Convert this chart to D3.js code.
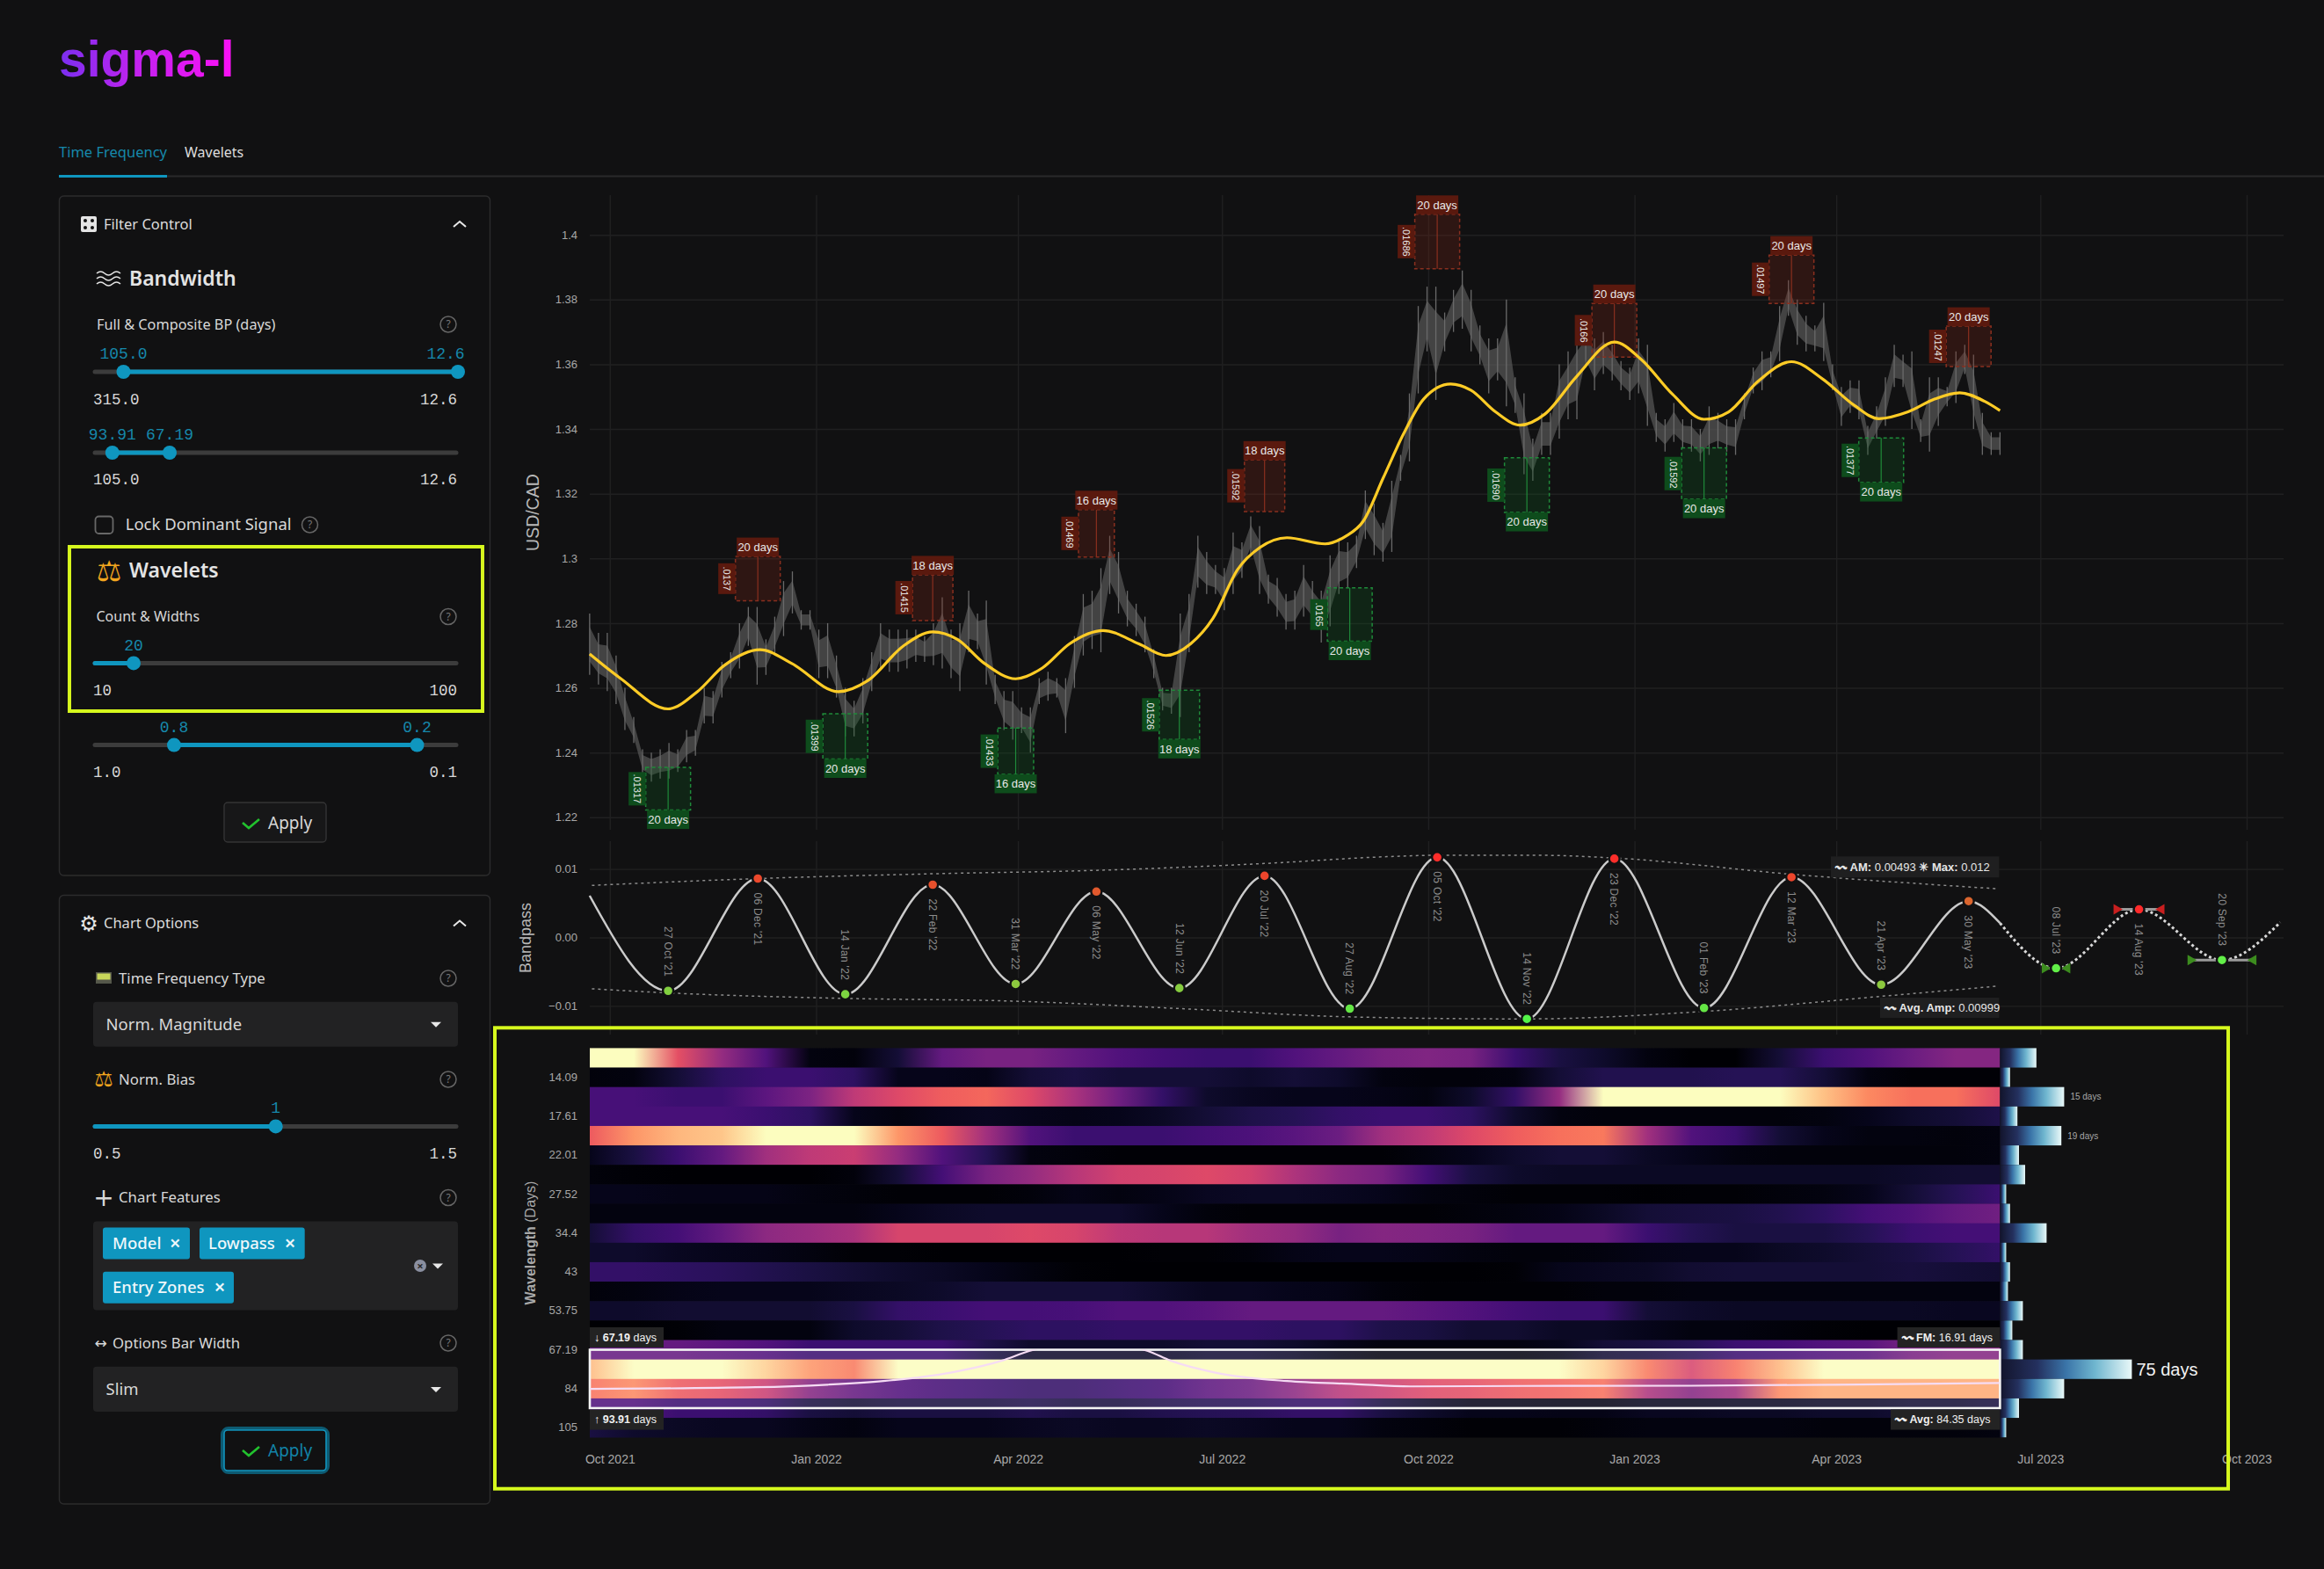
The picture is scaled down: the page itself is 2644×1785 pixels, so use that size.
<!DOCTYPE html>
<html><head><meta charset="utf-8">
<script src="https://cdn.jsdelivr.net/npm/d3@7"></script>
<style>html,body{margin:0;padding:0;background:#111112;overflow:hidden}svg{display:block}</style>
</head><body><svg id="c" width="2644" height="1785"></svg>
<script>
// ---------- chart values ----------
const priceHigh=[1.283,1.277,1.277,1.270,1.260,1.251,1.241,1.240,1.241,1.243,1.241,1.247,1.247,1.260,1.259,1.268,1.271,1.280,1.285,1.285,1.275,1.282,1.293,1.296,1.284,1.284,1.278,1.280,1.270,1.260,1.256,1.263,1.271,1.280,1.278,1.278,1.278,1.278,1.276,1.280,1.288,1.278,1.280,1.290,1.283,1.287,1.264,1.259,1.259,1.254,1.254,1.263,1.265,1.263,1.263,1.276,1.289,1.290,1.297,1.307,1.302,1.290,1.286,1.282,1.272,1.260,1.260,1.283,1.289,1.307,1.302,1.298,
1.297,1.308,1.305,1.313,1.310,1.295,1.294,1.289,1.290,1.298,1.293,1.290,1.301,1.306,1.305,1.307,1.321,1.317,1.311,1.324,1.332,1.351,1.378,1.384,1.384,1.376,1.383,1.389,1.383,1.372,1.368,1.368,1.380,1.356,1.351,1.337,1.345,1.345,1.360,1.364,1.370,1.370,1.368,1.370,1.366,1.361,1.359,1.368,1.366,1.345,1.343,1.348,1.343,1.343,1.340,1.347,1.345,1.343,1.343,1.351,1.359,1.364,1.364,1.378,1.386,1.380,1.375,1.372,1.379,1.360,1.353,1.355,1.355,1.341,1.347,1.356,1.366,1.363,1.364,1.343,1.356,1.356,1.353,1.364,1.366,1.363,1.345,1.339,1.339];
const priceLow=[1.264,1.261,1.259,1.255,1.247,1.243,1.233,1.231,1.232,1.232,1.234,1.237,1.239,1.249,1.249,1.257,1.263,1.266,1.273,1.261,1.264,1.270,1.276,1.283,1.278,1.278,1.263,1.263,1.257,1.245,1.245,1.249,1.259,1.266,1.265,1.265,1.266,1.268,1.268,1.267,1.266,1.263,1.259,1.271,1.272,1.261,1.255,1.247,1.244,1.246,1.240,1.255,1.256,1.257,1.246,1.260,1.270,1.272,1.271,1.289,1.283,1.279,1.276,1.271,1.263,1.253,1.252,1.251,1.271,1.291,1.289,1.289,
1.284,1.289,1.294,1.301,1.289,1.286,1.282,1.278,1.278,1.282,1.279,1.274,1.279,1.289,1.291,1.297,1.306,1.301,1.299,1.302,1.324,1.330,1.351,1.364,1.349,1.364,1.370,1.371,1.364,1.360,1.351,1.355,1.347,1.345,1.326,1.324,1.332,1.332,1.337,1.343,1.343,1.359,1.352,1.357,1.355,1.352,1.349,1.351,1.341,1.336,1.333,1.336,1.334,1.333,1.330,1.332,1.334,1.333,1.332,1.343,1.351,1.352,1.356,1.361,1.375,1.366,1.364,1.364,1.361,1.352,1.341,1.345,1.343,1.332,1.337,1.341,1.353,1.353,1.340,1.336,1.333,1.341,1.347,1.348,1.357,1.340,1.332,1.332,1.332];
const priceFirstDate='2021-09-22', priceLastDate='2023-06-13';
const lowpassDay=[-9,5,26,39,51,67,81,102,115,131,144,155,167,181,193,205,220,236,248,259,269,280,290,302,319,328,336,345,354,363,375,384,395,406,417,431,448,460,474,488,499,512,527,541,555,566,579,591,602,613,620];
const lowpassValue=[1.2705,1.2628,1.2535,1.2588,1.2669,1.2718,1.2676,1.2588,1.2622,1.273,1.2773,1.275,1.2676,1.2628,1.2662,1.2736,1.2777,1.2736,1.27,1.2736,1.2815,1.2966,1.3034,1.3064,1.3045,1.3068,1.3115,1.325,1.3385,1.3493,1.3539,1.352,1.3453,1.3412,1.3446,1.3561,1.3669,1.3615,1.3507,1.343,1.3453,1.3547,1.3608,1.3554,1.3473,1.3432,1.3453,1.3493,1.3512,1.3486,1.3457];
const priceTicks=[1.22,1.24,1.26,1.28,1.30,1.32,1.34,1.36,1.38,1.40];
const bandpassTicks=[-0.01,0,0.01];
// entry zones
const lowZoneDates=['2021-10-27','2022-01-14','2022-03-31','2022-06-12','2022-08-27','2022-11-14','2023-02-01','2023-04-21'];
const lowZoneTop=[1.2354,1.252,1.2476,1.2593,1.2909,1.3311,1.3342,1.3372];
const lowZoneDays=[20,20,16,18,20,20,20,20];
const lowZoneTags=['.01317','.01399','.01433','.01526','.0165','.01690','.01592','.01377'];
const highZoneDates=['2021-12-06','2022-02-22','2022-05-06','2022-07-20','2022-10-05','2022-12-23','2023-03-12','2023-05-30'];
const highZoneBottom=[1.2869,1.2808,1.3004,1.3145,1.3895,1.3622,1.3788,1.3593];
const highZoneDays=[20,18,16,18,20,20,20,20];
const highZoneTags=['.0137','.01415','.01469','.01592','.01686','.0166','.01497','.01247'];
// bandpass
const bandDates=['2021-09-22','2021-10-27','2021-12-06','2022-01-14','2022-02-22','2022-03-31','2022-05-06','2022-06-12','2022-07-20','2022-08-27','2022-10-05','2022-11-14','2022-12-23','2023-02-01','2023-03-12','2023-04-21','2023-05-30','2023-06-13'];
const bandValues=[0.0061,-0.0078,0.0086,-0.0083,0.0077,-0.0068,0.0067,-0.0074,0.009,-0.0104,0.0117,-0.0119,0.0115,-0.0103,0.0088,-0.0069,0.0053,0.0021];
const forecastDates=['2023-06-13','2023-07-08','2023-08-14','2023-09-20','2023-10-16'];
const forecastValues=[0.0021,-0.0045,0.0041,-0.0033,0.0022];
const forecastSpreadDays=[0,5,10,14,0];
const upperEnvDay=[-8,66,144,217,292,347,369,414,448,528,619];
const upperEnvValue=[0.0076,0.0086,0.0093,0.0098,0.0108,0.0118,0.012,0.012,0.0116,0.0092,0.0071];
const lowerEnvDay=[-8,26,105,180,255,330,408,488,567,619];
const lowerEnvValue=[-0.0075,-0.0081,-0.0089,-0.0093,-0.0104,-0.0116,-0.0119,-0.0108,-0.0086,-0.0071];
// time-frequency rows, sampled evenly through the series
const wavelengths=[12.6,14.09,15.75,17.61,19.69,22.01,24.61,27.52,30.77,34.4,38.46,43,48.08,53.75,60.1,67.19,75.13,84,93.91,105];
const row01=[1.1,1,.62,.42,.25,.03,.02,.1,.3,.35,.35,.3,.25,.22,.2,.2,.25,.3,.35,.37,.35,.2,.12,.08,.03,0,0,.1,.2,.25,.32,.38,.38];
const row02=[.02,.03,.1,.17,.2,.2,.17,.05,.05,.04,.1,.12,.1,.1,.1,.08,.1,.08,.03,.02,.02,.03,.1,.14,.14,.14,.15,.15,.1,.03,.01,.01,.01];
const row03=[.23,.23,.2,.2,.28,.36,.52,.6,.66,.68,.6,.47,.33,.18,.08,.06,.05,.05,.04,.03,.08,.18,.42,1,1,1,1,1,.87,.75,.7,.7,.6];
const row04=[.23,.23,.23,.23,.2,.17,.05,.03,.05,.06,.05,.04,.05,.07,.1,.13,.15,.18,.2,.2,.17,.08,.03,.02,.02,.02,.02,.02,.03,.05,.08,.1,.13];
const row05=[.65,.78,.85,.88,1,1,1,.78,.65,.45,.25,.2,.2,.2,.22,.24,.27,.32,.45,.52,.6,.66,.7,.72,.45,.25,.2,.1,.05,.03,.03,.02,.03];
const row06=[.05,.12,.2,.3,.45,.52,.55,.42,.25,.15,.03,.02,.01,.01,.01,.01,.01,.01,.01,.03,.05,.08,.1,.1,.07,.05,.03,.02,.02,.02,.02,.02,.03];
const row07=[.02,.01,0,0,0,0,.02,.1,.22,.35,.42,.5,.57,.58,.6,.57,.48,.4,.35,.22,.12,.08,.07,.07,.07,.07,.07,.07,.07,.07,.08,.09,.09];
const row08=[.05,.05,.04,.04,.04,.03,.02,.01,.01,.01,.02,.04,.03,.04,.06,.07,.07,.06,.05,.03,.02,.01,.01,.01,0,.01,.01,.02,.03,.05,.1,.15,.2];
const row09=[.03,.03,.03,.03,.03,.03,.03,.05,.07,.08,.08,.08,.08,.05,.02,.01,.01,.01,.01,.01,.02,.03,.04,.07,.1,.11,.12,.14,.17,.22,.25,.3,.33];
const row10=[.1,.18,.22,.3,.4,.43,.47,.58,.58,.58,.6,.58,.52,.5,.5,.45,.42,.35,.38,.37,.35,.3,.3,.3,.2,.15,.12,.12,.12,.15,.2,.22,.22];
const row11=[.08,.08,.06,.05,.04,.03,.01,.01,0,0,0,0,0,.01,.01,.02,.04,.05,.05,.04,.03,.02,.02,.03,.04,.05,.05,.07,.08,.1,.12,.15,.18];
const row12=[.18,.18,.17,.16,.14,.12,.1,.08,.07,.05,.03,.01,0,0,0,0,0,0,0,0,0,.01,.05,.06,.07,.09,.1,.1,.1,.1,.11,.1,.09];
const row13=[.02,.03,.04,.05,.05,.05,.06,.07,.08,.1,.1,.1,.1,.08,.06,.06,.05,.04,.02,.01,.01,.01,.01,.02,.02,.03,.03,.03,.03,.03,.03,.03,.03];
const row14=[.08,.08,.09,.09,.09,.09,.12,.18,.2,.22,.22,.23,.25,.25,.27,.3,.3,.3,.3,.28,.25,.22,.2,.2,.1,.08,.07,.07,.07,.07,.07,.06,.06];
const row15=[0,0,.01,.03,.03,.03,.08,.1,.13,.15,.17,.17,.18,.18,.18,.18,.17,.17,.13,.12,.09,.09,.07,.07,.05,.03,.03,.02,.01,0,0,0,0];
const row16=[.3,.3,.3,.28,.25,.2,.2,.2,.2,.13,.08,.08,.08,.08,.1,.1,.08,.05,.03,.03,.03,.03,.05,.1,.12,.15,.2,.22,.25,.27,.35,.38,.38];
const row17=[.85,1,1,1,.9,.78,.72,1,1,1,1,1,1,1,1,1,1,1,1,1,1,1,1,.9,.72,.58,.7,.85,1,1,1,1,1];
const row18=[.7,.75,.65,.62,.55,.38,.3,.25,.22,.2,.18,.18,.2,.22,.28,.32,.4,.5,.55,.6,.62,.65,.67,.7,.48,.38,.45,.75,.82,.82,.82,.82,.82];
const row19=[.25,.25,.2,.2,.18,.12,.1,.12,.12,.12,.14,.12,.12,.14,.15,.16,.18,.18,.12,.08,.05,.05,.04,.04,.06,.06,.07,.07,.08,.08,.1,.1,.12];
const row20=[.12,.08,.07,.06,.06,.04,.03,.05,.05,.05,.06,.07,.06,.06,.07,.06,.05,.05,.03,.02,.01,.01,.01,.02,.03,.03,.03,.03,.02,.02,.02,.02,.03];
const heatRows=[row01,row02,row03,row04,row05,row06,row07,row08,row09,row10,row11,row12,row13,row14,row15,row16,row17,row18,row19,row20];
const rowDaysCount=[20.7,5.7,36.5,9.9,34.9,10.8,14.3,3.5,5.7,26.5,3.5,5.7,4.5,13,7,13,75,36.5,10.8,3.5];
const rowPeakLabels={2:'15 days',4:'19 days',16:'75 days'};
const trackDay=[-9,65,97,122,152,175,187,214,240,250,270,302,332,357,407,482,557,620];
const trackWavelength=[84.1,83.3,82.1,80.4,76.6,71.5,67.7,64,67.7,71.5,76.6,80.4,81.8,82.9,82.7,82.6,82,81.3];
const bandLow=67.19, bandHigh=93.91;
const monthTicksFormat='%b %Y';

// ---------- setup ----------
const svg=d3.select('#c');
const defs=svg.append('defs');
const SANS='"Noto Sans",sans-serif', ARIAL='"Liberation Sans",Arial,sans-serif', MONO='"Liberation Mono","DejaVu Sans Mono",monospace';
const parse=d3.utcParse('%Y-%m-%d');
const ORIGIN=parse('2021-10-01');
const dayToDate=n=>d3.utcDay.offset(ORIGIN,n);
const x=d3.scaleUtc().domain([ORIGIN,parse('2023-10-01')]).range([693.8,2556]);
const xTicks=d3.utcMonth.range(ORIGIN,d3.utcDay.offset(parse('2023-10-01'),1),3);
const plotL=671, plotR=2598, heatR=x(parse(priceLastDate));
const GRID='#202021', TICK='#a8a8a8', CYAN='#0f96bf';
function T(g,px,py,s,o={}){const t=g.append('text').attr('x',px).attr('y',py).text(s)
 .attr('font-family',o.family||SANS).attr('font-size',o.size||16).attr('fill',o.fill||'#d8d8d8')
 .attr('font-weight',o.weight||400).attr('text-anchor',o.anchor||'start').attr('dy',o.dy==null?'.35em':o.dy);
 if(o.rotate)t.attr('transform',`rotate(${o.rotate} ${px} ${py})`);return t;}
function styleAxis(a,fs){a.select('.domain').remove();a.selectAll('.tick line').attr('stroke',GRID).attr('stroke-width',1.4);
 a.selectAll('.tick text').attr('fill',TICK).attr('font-family',ARIAL).attr('font-size',fs);}

// ---------- price chart ----------
const yP=d3.scaleLinear().domain([1.22,1.4]).range([929.8,267.2]);
const main=svg.append('g');
styleAxis(main.append('g').attr('transform',`translate(${plotL},0)`)
 .call(d3.axisLeft(yP).tickValues(priceTicks).tickSize(-(plotR-plotL)).tickPadding(14).tickFormat(d=>String(+d.toFixed(2)))),13);
styleAxis(main.append('g').attr('transform','translate(0,944)')
 .call(d3.axisBottom(x).tickValues(xTicks).tickSize(-722).tickFormat('')),13);
T(main,606,583,'USD/CAD',{family:ARIAL,size:19.5,fill:'#b8b8b8',anchor:'middle',rotate:-90});
const priceT=d3.scaleLinear().domain([0,priceHigh.length-1]).range([parse(priceFirstDate),parse(priceLastDate)]);
const priceIdx=d3.range(priceHigh.length);
const inset=i=>(priceHigh[i]-priceLow[i])*.22;
main.append('path').datum(priceIdx).attr('fill','#5c5c5c').attr('fill-opacity',.68).attr('stroke','none')
 .attr('d',d3.area().x(i=>x(priceT(i))).y0(i=>yP(priceLow[i]+inset(i))).y1(i=>yP(priceHigh[i]-inset(i))).curve(d3.curveLinear));
main.append('g').selectAll('line').data(priceIdx).join('line')
 .attr('x1',i=>x(priceT(i))).attr('x2',i=>x(priceT(i))).attr('y1',i=>yP(priceLow[i])).attr('y2',i=>yP(priceHigh[i]))
 .attr('stroke','#6a6a6a').attr('stroke-width',1.3);

// zones
function zone(date,edge,days,tag,isLow){
 const amp=parseFloat('0'+tag), d=parse(date), g=main.append('g');
 const c=x(d), xa=x(d3.utcHour.offset(d,-days*12)), xb=x(d3.utcHour.offset(d,days*12));
 const y0=isLow?yP(edge):yP(edge+amp), y1=isLow?yP(edge-amp):yP(edge);
 const col=isLow?{fill:'#0f5a20',line:'#1f8a3a',lab:'#0e4c1c'}:{fill:'#7a2416',line:'#8a2f1f',lab:'#5a190e'};
 g.append('rect').attr('x',xa).attr('y',y0).attr('width',xb-xa).attr('height',y1-y0).attr('fill',col.fill).attr('fill-opacity',.28)
  .attr('stroke',col.line).attr('stroke-width',1.5).attr('stroke-dasharray','4 3');
 g.append('line').attr('x1',c).attr('x2',c).attr('y1',y0).attr('y2',y1).attr('stroke',col.line).attr('stroke-width',1.2);
 const lw=48, lh=21.5, ly=isLow?y1:y0-lh;
 g.append('rect').attr('x',c-lw/2).attr('y',ly).attr('width',lw).attr('height',lh).attr('fill',col.lab);
 T(g,c,ly+lh/2,days+' days',{family:ARIAL,size:13,fill:'#e8e8e8',anchor:'middle'});
 const tw=19.5, th=tag.length>5?38:35, ty=(y0+y1)/2;
 g.append('rect').attr('x',xa-tw).attr('y',ty-th/2).attr('width',tw).attr('height',th).attr('fill',col.lab);
 T(g,xa-tw/2,ty,tag,{family:ARIAL,size:11,fill:'#e8e8e8',anchor:'middle',rotate:90});
}
lowZoneDates.forEach((d,i)=>zone(d,lowZoneTop[i],lowZoneDays[i],lowZoneTags[i],true));
highZoneDates.forEach((d,i)=>zone(d,highZoneBottom[i],highZoneDays[i],highZoneTags[i],false));
main.append('path').datum(lowpassDay.map((d,i)=>[d,lowpassValue[i]])).attr('fill','none').attr('stroke','#ffcc26').attr('stroke-width',3.2)
 .attr('d',d3.line().x(d=>x(dayToDate(d[0]))).y(d=>yP(d[1])).curve(d3.curveMonotoneX));

// ---------- bandpass ----------
const yB=d3.scaleLinear().domain([-0.01,0.01]).range([1144.4,988.6]);
const bp=svg.append('g');
styleAxis(bp.append('g').attr('transform',`translate(${plotL},0)`)
 .call(d3.axisLeft(yB).tickValues(bandpassTicks).tickSize(-(plotR-plotL)).tickPadding(14).tickFormat(d3.format('.2f'))),13);
styleAxis(bp.append('g').attr('transform','translate(0,1177)')
 .call(d3.axisBottom(x).tickValues(xTicks).tickSize(-220).tickFormat('')),13);
T(bp,598,1067,'Bandpass',{family:ARIAL,size:18,fill:'#b8b8b8',anchor:'middle',rotate:-90});
const envLine=d3.line().x(d=>x(dayToDate(d[0]))).y(d=>yB(d[1])).curve(d3.curveMonotoneX);
[[upperEnvDay,upperEnvValue],[lowerEnvDay,lowerEnvValue]].forEach(([a,b])=>bp.append('path').datum(a.map((d,i)=>[d,b[i]]))
 .attr('fill','none').attr('stroke','#8c8c8c').attr('stroke-width',1.5).attr('stroke-dasharray','3 4').attr('d',envLine));
const bandLine=d3.line().x(d=>x(parse(d[0]))).y(d=>yB(d[1])).curve(d3.curveMonotoneX);
bp.append('path').datum(bandDates.map((d,i)=>[d,bandValues[i]])).attr('fill','none').attr('stroke','#cbcbcb').attr('stroke-width',2.5).attr('d',bandLine);
bp.append('path').datum(forecastDates.map((d,i)=>[d,forecastValues[i]])).attr('fill','none').attr('stroke','#d8d8d8').attr('stroke-width',3).attr('stroke-dasharray','3 3').attr('d',bandLine);
// forecast spread markers
const fmt=d3.utcFormat("%d %b '%y");
const redC=d3.scaleLinear().domain([.005,.012]).range(['#d8682e','#ff2a2a']).clamp(true);
const greenC=d3.scaleLinear().domain([.0069,.012]).range(['#8cc83e','#52f548']).clamp(true);
forecastDates.forEach((d,i)=>{const s=forecastSpreadDays[i]; if(!s)return;
 const v=forecastValues[i], c=parse(d), y=yB(v), a=x(d3.utcDay.offset(c,-s)), b=x(d3.utcDay.offset(c,s));
 const col=v>0?'#c91f1f':'#3c8c1e';
 bp.append('line').attr('x1',a).attr('x2',b).attr('y1',y).attr('y2',y).attr('stroke','#9a9a9a').attr('stroke-width',3);
 [[a,90],[b,-90]].forEach(([px,r])=>bp.append('path').attr('d',d3.symbol(d3.symbolTriangle,62)).attr('fill',col).attr('transform',`translate(${px},${y}) rotate(${r})`));
});
function extreme(date,v,fc){const px=x(parse(date)), py=yB(v), up=v>0;
 bp.append('circle').attr('cx',px).attr('cy',py).attr('r',6).attr('stroke','#111112').attr('stroke-width',2.4)
  .attr('fill',up?(fc?'#ff2a2a':redC(v)):(fc?'#62ef48':greenC(-v)));
 T(bp,px,up?py+16:py-16,fmt(parse(date)),{family:ARIAL,size:12,fill:'#8c8c8c',anchor:up?'start':'end',rotate:90}).attr('letter-spacing',.3);}
bandDates.forEach((d,i)=>{if(i>0&&i<bandDates.length-1)extreme(d,bandValues[i],false);});
forecastDates.forEach((d,i)=>{if(i>0&&i<forecastDates.length-1)extreme(d,forecastValues[i],true);});
function infoBox(x0,x1,y0,y1,parts){bp.append('rect').attr('x',x0).attr('y',y0).attr('width',x1-x0).attr('height',y1-y0).attr('fill','#1f1f20');
 const t=T(bp,x0+5,(y0+y1)/2,'',{family:ARIAL,size:13,fill:'#e6e6e6'});
 parts.forEach(p=>t.append('tspan').text(p[0]).attr('font-weight',p[1]?700:400));}
infoBox(2083,2274.4,974.3,998.3,[['〰 AM:',1],[' 0.00493',0],['    ✳ Max:',1],[' 0.012',0]]);
infoBox(2139,2274.4,1135,1158,[['〰 Avg. Amp:',1],[' 0.00999',0]]);

// ---------- heat map ----------
const rowScale=d3.scaleBand().domain(d3.range(wavelengths.length)).range([1192.4,1635.2]);
const colorOf=v=>d3.interpolateMagma(Math.max(0,Math.min(1,v)));
const heat=svg.append('g');
const heatL=plotL;
styleAxis(heat.append('g').attr('transform',`translate(${heatL-7},0)`)
 .call(d3.axisLeft(d3.scaleBand().domain(wavelengths.map(String)).range(rowScale.range()))
 .tickValues(wavelengths.filter((d,i)=>i%2==1).map(String)).tickSize(0).tickPadding(7)),13);
styleAxis(heat.append('g').attr('transform','translate(0,1652)')
 .call(d3.axisBottom(x).tickValues(xTicks).tickSize(0).tickPadding(0).tickFormat(d3.utcFormat(monthTicksFormat))),14);
heat.selectAll('.tick text').filter(function(){return this.getAttribute('dy')=='0.71em';}).attr('dy','.35em').attr('y',8);
const tW=heat.append('text').attr('transform','translate(603,1414) rotate(-90)').attr('text-anchor','middle').attr('dy','.35em')
 .attr('font-family',ARIAL).attr('font-size',16).attr('fill','#a8a8a8');
tW.append('tspan').text('Wavelength').attr('font-weight',700);tW.append('tspan').text(' (Days)');
heatRows.forEach((vals,r)=>{
 const id='hr'+r, g=defs.append('linearGradient').attr('id',id).attr('gradientUnits','userSpaceOnUse').attr('x1',heatL).attr('x2',heatR).attr('y1',0).attr('y2',0);
 vals.forEach((v,i)=>g.append('stop').attr('offset',i/(vals.length-1)).attr('stop-color',colorOf(v)));
 heat.append('rect').attr('x',heatL).attr('width',heatR-heatL).attr('y',rowScale(r)).attr('height',rowScale.bandwidth()+.3).attr('fill',`url(#${id})`);
});
// side bars
const barGrad=defs.append('linearGradient').attr('id','bar');
[[0,'#12142c'],[.28,'#24305e'],[.5,'#3a74a8'],[.72,'#6fb6cf'],[1,'#e9f8f8']].forEach(s=>barGrad.append('stop').attr('offset',s[0]).attr('stop-color',s[1]));
const barX=d3.scaleLinear().domain([0,75]).range([0,150]);
heat.append('g').selectAll('rect').data(rowDaysCount).join('rect').attr('x',heatR).attr('y',(d,i)=>rowScale(i))
 .attr('width',d=>barX(d)).attr('height',rowScale.bandwidth()).attr('fill','url(#bar)');
Object.entries(rowPeakLabels).forEach(([r,s])=>{const big=+r==16;
 T(heat,heatR+barX(rowDaysCount[r])+(big?5:7),rowScale(+r)+rowScale.bandwidth()/2,s,{family:ARIAL,size:big?20:10,fill:big?'#f2f2f2':'#a8a8a8'});});
// selected band
const yW=d3.scaleLog().domain([wavelengths[0],wavelengths[19]]).range([rowScale(0)+rowScale.bandwidth()/2,rowScale(19)+rowScale.bandwidth()/2]);
const by0=yW(bandLow), by1=yW(bandHigh);
heat.append('rect').attr('x',heatL).attr('y',by0).attr('width',heatR-heatL).attr('height',by1-by0).attr('fill','#fff').attr('fill-opacity',.13).attr('stroke','#f4f4f4').attr('stroke-width',2.6);
defs.append('clipPath').attr('id','bandClip').append('rect').attr('x',heatL).attr('y',by0).attr('width',heatR-heatL).attr('height',by1-by0);
heat.append('path').datum(trackDay.map((d,i)=>[d,trackWavelength[i]])).attr('clip-path','url(#bandClip)').attr('fill','none').attr('stroke','#f6dcf4').attr('stroke-width',2.2)
 .attr('d',d3.line().x(d=>x(dayToDate(d[0]))).y(d=>yW(d[1])).curve(d3.curveMonotoneX));
function heatTag(x0,x1,y0,y1,a,b){heat.append('rect').attr('x',x0).attr('y',y0).attr('width',x1-x0).attr('height',y1-y0).attr('fill','#232323');
 const t=T(heat,x0+5,(y0+y1)/2,'',{family:ARIAL,size:12.5,fill:'#f0f0f0'});t.append('tspan').text(a).attr('font-weight',700);t.append('tspan').text(b);}
heatTag(671,755,1510,1533,'↓ 67.19',' days');
heatTag(671,755,1603.5,1626.6,'↑ 93.91',' days');
heatTag(2158.6,heatR,1510,1533,'〰 FM:',' 16.91 days');
heatTag(2151,heatR,1603.5,1626.6,'〰 Avg:',' 84.35 days');

// ---------- sidebar ----------
const ui=svg.append('g');
const HELP=[[510,369],[510,701.5],[352.5,597],[510,1113],[510,1228],[510,1362.5],[510,1528]];
const logoGrad=defs.append('linearGradient').attr('id','logo');
[[0,'#7a2ff0'],[.45,'#c322ee'],[1,'#fb10f5']].forEach(s=>logoGrad.append('stop').attr('offset',s[0]).attr('stop-color',s[1]));
T(ui,67,87,'sigma-l',{family:ARIAL,size:57,weight:700,fill:'url(#logo)',dy:0});
T(ui,67,173,'Time Frequency',{size:16.5,fill:'#1688ab'});
T(ui,210,173,'Wavelets',{size:16,fill:'#dcdcdc'});
ui.append('line').attr('x1',67).attr('x2',2644).attr('y1',200.5).attr('y2',200.5).attr('stroke','#2a2a2b').attr('stroke-width',2);
ui.append('line').attr('x1',67).attr('x2',190).attr('y1',200.5).attr('y2',200.5).attr('stroke',CYAN).attr('stroke-width',3);
function panel(y0,y1,title){ui.append('rect').attr('x',67.5).attr('y',y0).attr('width',490).attr('height',y1-y0).attr('rx',5).attr('fill','none').attr('stroke','#2c2c2d').attr('stroke-width',1.4);
 T(ui,118,y0+32,title,{size:16.5,fill:'#dcdcdc'});
 ui.append('path').attr('d',`M516,${y0+35}l7,-6l7,6`).attr('fill','none').attr('stroke','#e8e8e8').attr('stroke-width',2);
 return y0+32;}
const p1=panel(223,996,'Filter Control');
ui.append('rect').attr('x',92).attr('y',p1-9).attr('width',18).attr('height',18).attr('rx',2).attr('fill','#e4e4e4');
[[97,p1-4],[105,p1-4],[97,p1+4],[105,p1+4]].forEach(c=>ui.append('circle').attr('cx',c[0]).attr('cy',c[1]).attr('r',2).attr('fill','#111'));
const p2=panel(1018.5,1711,'Chart Options');
T(ui,101,p2,'⚙',{family:'"DejaVu Sans"',size:24,fill:'#e4e4e4',anchor:'middle'});
[-6,0,6].forEach(o=>ui.append('path').attr('d',`M110,${317+o}q4.5,-4 9,0t9,0t9,0`).attr('fill','none').attr('stroke','#e4e4e4').attr('stroke-width',1.6));
T(ui,147,317,'Bandwidth',{size:23,weight:600,fill:'#e4e4e4'});
T(ui,110,369.5,'Full & Composite BP (days)',{size:16.3});
T(ui,124,650,'⚖',{family:'"DejaVu Sans"',size:32,fill:'#f2a61f',anchor:'middle'});
T(ui,147,649,'Wavelets',{size:23,weight:600,fill:'#e4e4e4'});
T(ui,109.5,701.5,'Count & Widths',{size:16});
HELP.forEach(h=>{ui.append('circle').attr('cx',h[0]).attr('cy',h[1]).attr('r',9).attr('fill','none').attr('stroke','#666').attr('stroke-width',1.5);
 T(ui,h[0],h[1],'?',{size:12,fill:'#777',anchor:'middle'});});
function slider(ty,a,b,va,lo,hi,vy,ly){
 ui.append('line').attr('x1',108).attr('x2',519).attr('y1',ty).attr('y2',ty).attr('stroke','#3c3c3c').attr('stroke-width',5).attr('stroke-linecap','round');
 ui.append('line').attr('x1',a<110?108:a).attr('x2',b).attr('y1',ty).attr('y2',ty).attr('stroke',CYAN).attr('stroke-width',5).attr('stroke-linecap','round');
 va.forEach(v=>{ui.append('circle').attr('cx',v[0]).attr('cy',ty).attr('r',8).attr('fill',CYAN);
  T(ui,v[2]==null?v[0]:v[2],vy,v[1],{family:MONO,size:18,fill:'#1688ab',anchor:'middle'});});
 T(ui,106,ly,lo,{family:MONO,size:17.5,fill:'#d8d8d8'});T(ui,520,ly,hi,{family:MONO,size:17.5,fill:'#d8d8d8',anchor:'end'});}
slider(423,140.5,521,[[140.5,'105.0'],[521,'12.6',507]],'315.0','12.6',402,453.5);
slider(515,127.8,193,[[127.8,'93.91'],[193,'67.19']],'105.0','12.6',494,545);
slider(754.4,106,152,[[152,'20']],'10','100',733.4,785);
slider(847.6,198,474.5,[[198,'0.8'],[474.5,'0.2']],'1.0','0.1',826.5,877.6);
slider(1281.4,106,313.7,[[313.7,'1']],'0.5','1.5',1260,1311.5);
ui.append('rect').attr('x',108.5).attr('y',587.5).attr('width',20).attr('height',19.5).attr('rx',4).attr('fill','none').attr('stroke','#686868').attr('stroke-width',1.8);
T(ui,142.7,597,'Lock Dominant Signal',{size:18.5});
function check(px,py){ui.append('path').attr('d',`M${px},${py}l7,6l12,-10`).attr('fill','none').attr('stroke','#22c22e').attr('stroke-width',2.6);}
ui.append('rect').attr('x',255).attr('y',913).attr('width',116).attr('height',45).attr('rx',4).attr('fill','#171718').attr('stroke','#343435').attr('stroke-width',1.4);
check(276,936);T(ui,305,936.5,'Apply',{size:19,fill:'#d8d8d8'});
ui.append('rect').attr('x',109).attr('y',1106).attr('width',18).attr('height',13).attr('fill','#55574a');
ui.append('rect').attr('x',110.5).attr('y',1107.5).attr('width',15).attr('height',7).attr('fill','#c8d65a');
T(ui,135,1113,'Time Frequency Type',{size:16.8});
function select(y0,y1,s){ui.append('rect').attr('x',106).attr('y',y0).attr('width',415).attr('height',y1-y0).attr('rx',4).attr('fill','#222223');
 T(ui,120.5,(y0+y1)/2+.5,s,{size:18.5,fill:'#d8d8d8'});
 ui.append('path').attr('d',`M490,${(y0+y1)/2-2.5}h12l-6,6z`).attr('fill','#e8e8e8');}
select(1139.7,1190.8,'Norm. Magnitude');
T(ui,118,1228,'⚖',{family:'"DejaVu Sans"',size:24,fill:'#f2a61f',anchor:'middle'});
T(ui,135,1228,'Norm. Bias',{size:16.8});
T(ui,118,1362.5,'+',{family:'"DejaVu Sans"',size:28,fill:'#d8d8d8',anchor:'middle'});
T(ui,135,1362.5,'Chart Features',{size:16.8});
ui.append('rect').attr('x',106).attr('y',1389.6).attr('width',415).attr('height',101).attr('rx',4).attr('fill','#222223');
[[117,216,1396.6,128,'Model',199.4],[227,346.7,1396.6,237,'Lowpass',330],[117,266,1446.7,128,'Entry Zones',250]].forEach(c=>{
 ui.append('rect').attr('x',c[0]).attr('y',c[2]).attr('width',c[1]-c[0]).attr('height',36).attr('rx',3).attr('fill',CYAN);
 T(ui,c[3],c[2]+18,c[4],{size:18.5,weight:500,fill:'#eef7fa'});
 T(ui,c[5],c[2]+18,'×',{size:22,fill:'#eef7fa',anchor:'middle',weight:600});});
ui.append('circle').attr('cx',478).attr('cy',1440).attr('r',7).attr('fill','#8a8fa0');
T(ui,478,1440,'×',{size:13,fill:'#2a2a2a',anchor:'middle',weight:700});
ui.append('path').attr('d','M492,1437.5h12l-6,6z').attr('fill','#e8e8e8');
T(ui,114.5,1528,'↔',{family:'"DejaVu Sans"',size:17,fill:'#d8d8d8',anchor:'middle'});
T(ui,128,1528,'Options Bar Width',{size:16.8});
select(1554.8,1606,'Slim');
ui.append('rect').attr('x',253).attr('y',1625).attr('width',120).attr('height',50).attr('rx',7).attr('fill','none').attr('stroke','#0d5a72').attr('stroke-width',4);
ui.append('rect').attr('x',255).attr('y',1627).attr('width',116).attr('height',46).attr('rx',4).attr('fill','#111112').attr('stroke','#1194bd').attr('stroke-width',1.6);
check(276,1650);T(ui,305,1650.5,'Apply',{size:19,fill:'#1283a8'});

// highlight frames
[[79,622,470,187],[563,1169.3,1972,524.4]].forEach(b=>svg.append('rect').attr('x',b[0]).attr('y',b[1]).attr('width',b[2]).attr('height',b[3]).attr('fill','none').attr('stroke','#d6f91d').attr('stroke-width',4));
</script></body></html>
